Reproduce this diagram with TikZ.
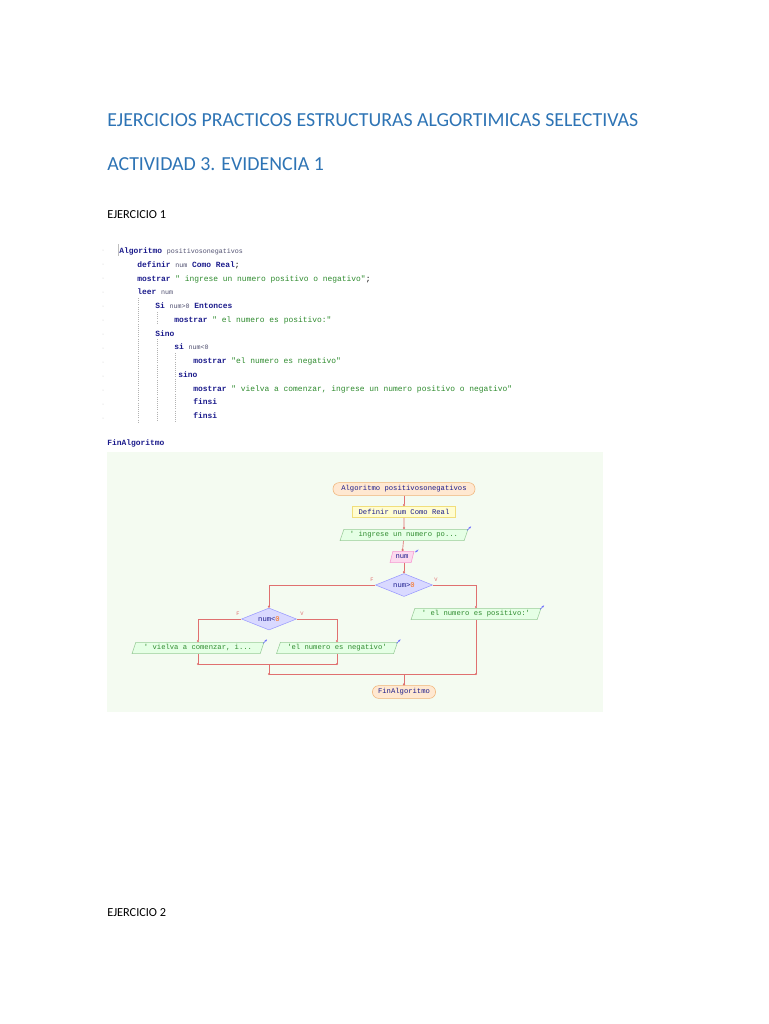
\documentclass[tikz,border=0pt]{standalone}
\usepackage{fontspec}
\setmainfont{Carlito}
\setmonofont{Liberation Mono}
\usetikzlibrary{shapes.geometric,arrows.meta}
\definecolor{ttl}{HTML}{2E74B5}
\definecolor{kw}{HTML}{1C1C8C}
\definecolor{str}{HTML}{2E8B2E}
\definecolor{idf}{HTML}{505070}
\definecolor{ln}{HTML}{E07070}
\definecolor{bg}{HTML}{F4FBF1}
\tikzset{
 title/.style={anchor=base west,text=ttl,font=\fontsize{14.9}{16}\selectfont,inner sep=0},
 body/.style={anchor=base west,font=\fontsize{9.2}{10}\selectfont,inner sep=0},
 code/.style={anchor=base west,font=\ttfamily\fontsize{5.95}{7}\selectfont,inner sep=0},
 fc/.style={font=\ttfamily\fontsize{5.4}{6}\selectfont,inner sep=1.5pt},
 term/.style={fc,rounded corners=4.5pt,draw=orange!60!brown!60,fill=orange!18,text=kw,minimum height=9.5pt,inner xsep=4pt},
 proc/.style={fc,draw=yellow!60!brown!60,fill=yellow!18,text=kw,minimum height=8.5pt,inner xsep=4pt},
 outp/.style={fc,trapezium,trapezium left angle=70,trapezium right angle=110,draw=green!50!black!40,fill=green!10,text=str,minimum height=8.5pt,trapezium stretches body},
 inp/.style={outp,draw=magenta!40,fill=magenta!15,text=kw},
 dec/.style={fc,diamond,draw=blue!40,fill=blue!15,text=kw,inner sep=0pt,minimum width=57*0.75pt,minimum height=23*0.75pt,shape aspect=2.5},
 flow/.style={draw=ln,line width=0.5pt},
 arr/.style={flow,-{Circle[length=1.6pt]}},
 lab/.style={font=\ttfamily\fontsize{4}{5}\selectfont,text=ln,inner sep=0},
 guide/.style={densely dotted,gray!60,line width=0.6pt},
 blu/.style={blue!60,-{Stealth[length=2pt]},line width=0.4pt},
}
\newcommand{\K}[1]{\textcolor{kw}{\textbf{#1}}}
\newcommand{\Sx}[1]{\textcolor{str}{#1}}
\newcommand{\I}[1]{\textcolor{idf}{{\fontsize{5}{6}\selectfont #1}}}
\begin{document}
\begin{tikzpicture}[x=0.75pt,y=-0.75pt]
\useasboundingbox[fill=white] (0,0) rectangle (768,1024);
\node[title] (t1) at (107,127) {EJERCICIOS PRACTICOS ESTRUCTURAS ALGORTIMICAS SELECTIVAS};
\node[title] (t2) at (107,170) {ACTIVIDAD 3. EVIDENCIA 1};
\node[body] (e1) at (107,218) {EJERCICIO 1};
\node[body] (e2) at (107,916) {EJERCICIO 2};
% code
\draw[gray!50,line width=0.6pt] (118,244) -- (118,256);
\foreach \y in {250,264,...,430} \fill[gray!40] (103,\y) circle (0.5);
\draw[guide] (138,298) -- (138,422);
\draw[guide] (157,312) -- (157,324);
\draw[guide] (157,339) -- (157,422);
\draw[guide] (175,353) -- (175,422);
\node[code] (c1) at (119,253) {\K{Algoritmo} \I{positivosonegativos}};
\node[code] (c2) at (137,267) {\K{definir} \I{num} \K{Como Real};};
\node[code] (c3) at (137,281) {\K{mostrar} \Sx{" ingrese un numero positivo o negativo"};};
\node[code] (c4) at (137,294) {\K{leer} \I{num}};
\node[code] (c5) at (155,308) {\K{Si} \I{num>0} \K{Entonces}};
\node[code] (c6) at (174,322) {\K{mostrar} \Sx{" el numero es positivo:"}};
\node[code] (c7) at (155,336) {\K{Sino}};
\node[code] (c8) at (174,349) {\K{si}  \I{num<0}};
\node[code] (c9) at (193,363) {\K{mostrar} \Sx{"el numero es negativo"}};
\node[code] (c10) at (178,377) {\K{sino}};
\node[code] (c11) at (193,391) {\K{mostrar} \Sx{" vielva a comenzar, ingrese un numero positivo o negativo"}};
\node[code] (c12) at (193,404) {\K{finsi}};
\node[code] (c13) at (193,418) {\K{finsi}};
\node[code] (c14) at (107,445) {\K{FinAlgoritmo}};
% flowchart
\fill[bg] (107,452) rectangle (603,712);
\node[term,minimum width=142*0.75pt] (s) at (404,489) {Algoritmo positivosonegativos};
\node[proc,minimum width=103*0.75pt] (d) at (404,512) {Definir num Como Real};
\node[outp,minimum width=128*0.75pt] (o1) at (404,535) {' ingrese un numero po...};
\node[inp,minimum width=24*0.75pt] (in) at (402,557) {num};
\node[dec] (q1) at (404,585) {num>\textcolor{orange!80!red}{0}};
\node[outp,minimum width=130*0.75pt] (pos) at (476,614) {' el numero es positivo:'};
\node[dec,minimum width=55*0.75pt,minimum height=22*0.75pt] (q2) at (269,619) {num<\textcolor{orange!80!red}{0}};
\node[outp,minimum width=132*0.75pt] (vi) at (198,648) {' vielva a comenzar, i...};
\node[outp,minimum width=121*0.75pt] (neg) at (337,648) {'el numero es negativo'};
\node[term,minimum width=63*0.75pt] (f) at (404,692) {FinAlgoritmo};
\foreach \n in {o1,pos,vi,neg} \draw[blu] ([xshift=-1pt,yshift=-1pt]\n.top right corner) -- ++(3pt,3pt);
\draw[blu] ([xshift=3pt,yshift=1pt]in.top right corner) -- ++(-2.5pt,-2pt);
\draw[arr] (s) -- (d);
\draw[arr] (d) -- (o1);
\draw[arr] (o1) -- (in);
\draw[arr] (in.south -| q1.north) -- (q1);
\draw[arr] (q1.east) -| (pos.north);
\draw[arr] (q1.west) -| (q2.north);
\draw[arr] (q2.east) -| (neg.north);
\draw[arr] (q2.west) -| (vi.north);
\coordinate (m1) at (269,664);
\coordinate (m2) at (404,674);
\draw[flow] (vi.south) -- (vi.south |- m1);
\draw[flow] (neg.south) -- (neg.south |- m1);
\draw[flow] (vi.south |- m1) -- (neg.south |- m1);
\fill[ln] (vi.south |- m1) circle (1.2); \fill[ln] (neg.south |- m1) circle (1.2);
\draw[flow] (m1) -- (m1 |- m2);
\draw[flow] (pos.south) -- (pos.south |- m2);
\draw[flow] (m1 |- m2) -- (pos.south |- m2);
\fill[ln] (m1 |- m2) circle (1.2); \fill[ln] (pos.south |- m2) circle (1.2);
\draw[arr] (m2) -- (f);
\node[lab] (lf1) at (372,580) {F};
\node[lab] (lv1) at (436,580) {V};
\node[lab] (lf2) at (238,614) {F};
\node[lab] (lv2) at (302,614) {V};
\end{tikzpicture}
\end{document}
